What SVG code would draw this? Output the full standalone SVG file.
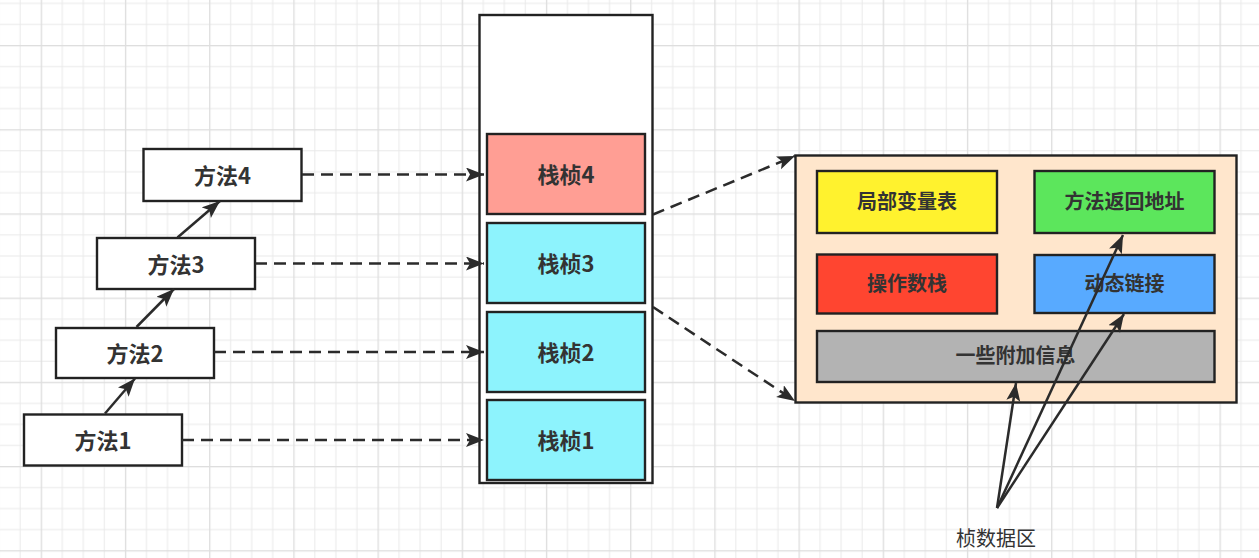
<svg xmlns="http://www.w3.org/2000/svg" width="1259" height="558" viewBox="0 0 1259 558">
<defs>
<pattern id="grid" patternUnits="userSpaceOnUse" x="40.7" y="45" width="84.2" height="84.2">
<rect x="0" y="0" width="84.2" height="84.2" fill="#ffffff"/>
<rect x="21.05" y="0" width="1" height="84.2" fill="#eaeaea"/>
<rect x="42.1" y="0" width="1" height="84.2" fill="#eaeaea"/>
<rect x="63.15" y="0" width="1" height="84.2" fill="#eaeaea"/>
<rect x="0" y="21.05" width="84.2" height="1" fill="#eaeaea"/>
<rect x="0" y="42.1" width="84.2" height="1" fill="#eaeaea"/>
<rect x="0" y="63.15" width="84.2" height="1" fill="#eaeaea"/>
<rect x="0" y="0" width="1.3" height="84.2" fill="#dedede"/>
<rect x="0" y="0" width="84.2" height="1.3" fill="#dedede"/>
</pattern>
<marker id="arr" markerUnits="userSpaceOnUse" markerWidth="19" markerHeight="15" refX="18" refY="7" orient="auto">
<path d="M0,0 L18,7 L0,14 L4,7 z" fill="#2b2b2b"/>
</marker>
<style>
.box{stroke:#222222;stroke-width:2.4}
.t{font-family:"Noto Sans CJK SC","Liberation Sans",sans-serif;font-weight:bold;fill:#333333;text-anchor:middle;dominant-baseline:central}
.m{font-size:22px}
.p{font-size:20px}
.ln{fill:none;stroke:#2b2b2b;stroke-width:2.5}
.dash{stroke-dasharray:12 7}
</style>
</defs>
<rect x="0" y="0" width="1259" height="558" fill="url(#grid)"/>

<g id="stack">
<rect class="box" x="479.5" y="15" width="173" height="468" fill="#ffffff"/>
</g>
<g id="frame4">
<rect class="box" x="487" y="134" width="158" height="80" fill="#FF9E94"/>
<text class="t m" x="566" y="173">栈桢4</text>
</g>
<g id="frame3">
<rect class="box" x="487" y="223" width="158" height="80" fill="#8DF3FD"/>
<text class="t m" x="566" y="262">栈桢3</text>
</g>
<g id="frame2">
<rect class="box" x="487" y="312" width="158" height="80" fill="#8DF3FD"/>
<text class="t m" x="566" y="351">栈桢2</text>
</g>
<g id="frame1">
<rect class="box" x="487" y="400" width="158" height="80" fill="#8DF3FD"/>
<text class="t m" x="566" y="439">栈桢1</text>
</g>

<g id="method4">
<rect class="box" x="143.5" y="149" width="158" height="52" fill="#ffffff"/>
<text class="t m" x="222.5" y="174">方法4</text>
</g>
<g id="method3">
<rect class="box" x="97" y="238" width="158" height="51" fill="#ffffff"/>
<text class="t m" x="176" y="262.5">方法3</text>
</g>
<g id="method2">
<rect class="box" x="56" y="328" width="158" height="50" fill="#ffffff"/>
<text class="t m" x="135" y="352">方法2</text>
</g>
<g id="method1">
<rect class="box" x="24" y="414.5" width="158" height="51" fill="#ffffff"/>
<text class="t m" x="103" y="439">方法1</text>
</g>

<g id="panel">
<rect class="box" x="795.5" y="155.5" width="441" height="247" fill="#FFE6CC"/>
</g>
<g id="local-vars">
<rect class="box" x="817" y="171" width="180" height="62" fill="#FFF22E"/>
<text class="t p" x="907" y="200">局部变量表</text>
</g>
<g id="return-addr">
<rect class="box" x="1034.5" y="171" width="180" height="62" fill="#5CE65C"/>
<text class="t p" x="1124.5" y="200">方法返回地址</text>
</g>
<g id="operand-stack">
<rect class="box" x="817" y="254.5" width="180" height="59" fill="#FF4530"/>
<text class="t p" x="907" y="282">操作数栈</text>
</g>
<g id="dynamic-link">
<rect class="box" x="1034.5" y="255" width="180" height="58" fill="#58AAFF"/>
<text class="t p" x="1124.5" y="282">动态链接</text>
</g>
<g id="extra-info">
<rect class="box" x="817" y="331" width="397.5" height="51" fill="#B3B3B3"/>
<text class="t p" x="1015.5" y="354.5" fill="#444444">一些附加信息</text>
</g>
<g id="label">
<text x="996" y="537" style="font-family:'Noto Sans CJK SC','Liberation Sans',sans-serif;font-size:20px;fill:#333333;text-anchor:middle;dominant-baseline:central">桢数据区</text>
</g>

<g id="connectors">
<line class="ln" x1="105" y1="413.5" x2="135" y2="378.5" marker-end="url(#arr)"/>
<line class="ln" x1="136.5" y1="327" x2="174" y2="289" marker-end="url(#arr)"/>
<line class="ln" x1="177.5" y1="237.5" x2="220" y2="201" marker-end="url(#arr)"/>
<line class="ln dash" x1="302" y1="174.5" x2="484" y2="174.5" marker-end="url(#arr)"/>
<line class="ln dash" x1="255" y1="263.5" x2="484" y2="263.5" marker-end="url(#arr)"/>
<line class="ln dash" x1="214" y1="352" x2="484" y2="352" marker-end="url(#arr)"/>
<line class="ln dash" x1="182" y1="440" x2="484" y2="440" marker-end="url(#arr)"/>
<line class="ln dash" x1="653" y1="214.5" x2="795" y2="156" marker-end="url(#arr)"/>
<line class="ln dash" x1="653" y1="307" x2="795" y2="401" marker-end="url(#arr)"/>
<line class="ln" x1="997" y1="508" x2="1016" y2="383" marker-end="url(#arr)"/>
<line class="ln" x1="997" y1="508" x2="1123" y2="235" marker-end="url(#arr)"/>
<line class="ln" x1="997" y1="508" x2="1124" y2="314" marker-end="url(#arr)"/>
</g>
</svg>
